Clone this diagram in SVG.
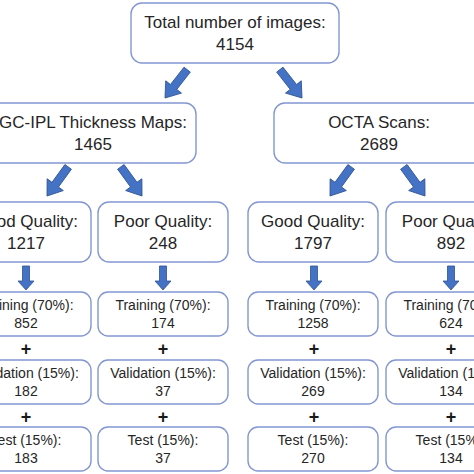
<svg xmlns="http://www.w3.org/2000/svg" width="474" height="474" viewBox="0 0 474 474" xmlns:xlink="http://www.w3.org/1999/xlink">
<style>
.box{fill:#fff;stroke:#8496d2;stroke-width:1.4}
.big{font-family:"Liberation Sans",Arial,sans-serif;font-size:17px;fill:#262626;text-anchor:middle}
.sm{font-family:"Liberation Sans",Arial,sans-serif;font-size:14px;fill:#262626;text-anchor:middle}
.plus{font-family:"Liberation Sans",Arial,sans-serif;font-size:18px;font-weight:bold;fill:#1a1a1a;text-anchor:middle}
.arr{fill:#4472c4;stroke:#2f528f;stroke-width:0.8}
</style>
<defs>
<path id="diag" d="M-4,-36 L4,-36 L4,-14 L10,-14 L0,0 L-10,-14 L-4,-14 Z"/>
<path id="down" d="M-3.5,-24 L3.5,-24 L3.5,-9 L8,-9 L0,0 L-8,-9 L-3.5,-9 Z"/>
</defs>
<rect width="474" height="474" fill="#fff"/>
<g id="connectors" class="arr">
<use xlink:href="#diag" transform="translate(165,98) rotate(38)"/>
<use xlink:href="#diag" transform="translate(302,98) rotate(-38)"/>
<use xlink:href="#diag" transform="translate(47,196) rotate(36)"/>
<use xlink:href="#diag" transform="translate(142,196) rotate(-36)"/>
<use xlink:href="#diag" transform="translate(330,196) rotate(36)"/>
<use xlink:href="#diag" transform="translate(425,196) rotate(-36)"/>
<use xlink:href="#down" transform="translate(26,290)"/>
<use xlink:href="#down" transform="translate(163,290)"/>
<use xlink:href="#down" transform="translate(314,290)"/>
<use xlink:href="#down" transform="translate(451,290)"/>
</g>
<g id="plus">
<text class="plus" x="26" y="355">+</text>
<text class="plus" x="163" y="355">+</text>
<text class="plus" x="314" y="355">+</text>
<text class="plus" x="451" y="355">+</text>
<text class="plus" x="26" y="423">+</text>
<text class="plus" x="163" y="423">+</text>
<text class="plus" x="314" y="423">+</text>
<text class="plus" x="451" y="423">+</text>
</g>
<g id="total"><rect class="box" x="131" y="3" width="208" height="60" rx="11"/><text class="big" x="235" y="28">Total number of images:</text><text class="big" x="235" y="50">4154</text></g>
<g id="gcipl"><rect class="box" x="-10" y="103" width="206" height="60" rx="11"/><text class="big" x="93" y="128">GC-IPL Thickness Maps:</text><text class="big" x="93" y="150">1465</text></g>
<g id="octa"><rect class="box" x="274" y="103" width="210" height="60" rx="11"/><text class="big" x="379" y="128">OCTA Scans:</text><text class="big" x="379" y="150">2689</text></g>

<g id="gc-good"><rect class="box" x="-39" y="202" width="130" height="60" rx="11"/><text class="big" x="26" y="227">Good Quality:</text><text class="big" x="26" y="249">1217</text></g>
<g id="gc-poor"><rect class="box" x="98" y="202" width="130" height="60" rx="11"/><text class="big" x="163" y="227">Poor Quality:</text><text class="big" x="163" y="249">248</text></g>
<g id="octa-good"><rect class="box" x="248" y="202" width="130" height="60" rx="11"/><text class="big" x="313" y="227">Good Quality:</text><text class="big" x="313" y="249">1797</text></g>
<g id="octa-poor"><rect class="box" x="386" y="202" width="130" height="60" rx="11"/><text class="big" x="451" y="227">Poor Quality:</text><text class="big" x="451" y="249">892</text></g>

<g id="gc-good-train"><rect class="box" x="-39" y="292" width="130" height="44" rx="10"/><text class="sm" x="26" y="310">Training (70%):</text><text class="sm" x="26" y="328">852</text></g>
<g id="gc-poor-train"><rect class="box" x="98" y="292" width="130" height="44" rx="10"/><text class="sm" x="163" y="310">Training (70%):</text><text class="sm" x="163" y="328">174</text></g>
<g id="octa-good-train"><rect class="box" x="248" y="292" width="130" height="44" rx="10"/><text class="sm" x="313" y="310">Training (70%):</text><text class="sm" x="313" y="328">1258</text></g>
<g id="octa-poor-train"><rect class="box" x="386" y="292" width="130" height="44" rx="10"/><text class="sm" x="451" y="310">Training (70%):</text><text class="sm" x="451" y="328">624</text></g>

<g id="gc-good-val"><rect class="box" x="-39" y="360" width="130" height="44" rx="10"/><text class="sm" x="26" y="378">Validation (15%):</text><text class="sm" x="26" y="396">182</text></g>
<g id="gc-poor-val"><rect class="box" x="98" y="360" width="130" height="44" rx="10"/><text class="sm" x="163" y="378">Validation (15%):</text><text class="sm" x="163" y="396">37</text></g>
<g id="octa-good-val"><rect class="box" x="248" y="360" width="130" height="44" rx="10"/><text class="sm" x="313" y="378">Validation (15%):</text><text class="sm" x="313" y="396">269</text></g>
<g id="octa-poor-val"><rect class="box" x="386" y="360" width="130" height="44" rx="10"/><text class="sm" x="451" y="378">Validation (15%):</text><text class="sm" x="451" y="396">134</text></g>

<g id="gc-good-test"><rect class="box" x="-39" y="427" width="130" height="44" rx="10"/><text class="sm" x="26" y="445">Test (15%):</text><text class="sm" x="26" y="463">183</text></g>
<g id="gc-poor-test"><rect class="box" x="98" y="427" width="130" height="44" rx="10"/><text class="sm" x="163" y="445">Test (15%):</text><text class="sm" x="163" y="463">37</text></g>
<g id="octa-good-test"><rect class="box" x="248" y="427" width="130" height="44" rx="10"/><text class="sm" x="313" y="445">Test (15%):</text><text class="sm" x="313" y="463">270</text></g>
<g id="octa-poor-test"><rect class="box" x="386" y="427" width="130" height="44" rx="10"/><text class="sm" x="451" y="445">Test (15%):</text><text class="sm" x="451" y="463">134</text></g>
</svg>
